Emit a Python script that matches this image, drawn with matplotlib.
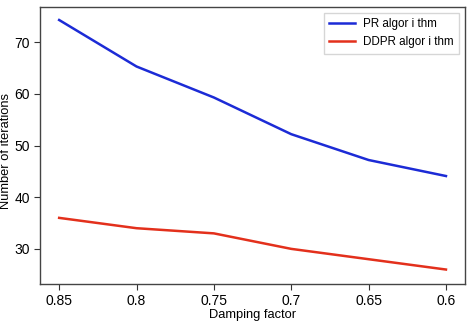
import matplotlib
matplotlib.use("Agg")
import matplotlib.pyplot as plt

plt.rcParams['font.family'] = ['Liberation Sans', 'DejaVu Sans']

damping = [0.85, 0.8, 0.75, 0.7, 0.65, 0.6]
x_labels = ["0.85", "0.8", "0.75", "0.7", "0.65", "0.6"]
pr_iters = [74.3, 65.3, 59.3, 52.2, 47.2, 44.1]
ddpr_iters = [36.0, 34.0, 33.0, 30.0, 28.0, 26.0]

fig = plt.figure(figsize=(4.74, 3.22), dpi=100)
ax = fig.add_axes([0.084, 0.118, 0.897, 0.86])

ax.plot(damping, pr_iters, color='#1c2bd6', lw=1.8, label='PR algor i thm')
ax.plot(damping, ddpr_iters, color='#e3301c', lw=1.8, label='DDPR algor i thm')

ax.set_xlim(0.8625, 0.5877)
ax.set_ylim(23.2, 76.8)
ax.set_xticks(damping)
ax.set_xticklabels(x_labels)
ax.set_yticks([30, 40, 50, 60, 70])
ax.tick_params(labelsize=10, length=4, color='#333333', pad=3)
for s in ax.spines.values():
    s.set_color('#444444')
    s.set_linewidth(1.0)

ax.set_xlabel('Damping factor', fontsize=9.3, labelpad=1)
ax.set_ylabel('Number of iterations', fontsize=9.3)
ax.yaxis.set_label_coords(-0.066, 0.48)

leg = ax.legend(loc='upper right', fontsize=8.4, frameon=True, fancybox=False,
                edgecolor='#cccccc', handlelength=2.2, borderpad=0.45,
                handletextpad=0.7, borderaxespad=0.0,
                bbox_to_anchor=(0.986, 0.978))

fig.savefig('out.png', dpi=100)
